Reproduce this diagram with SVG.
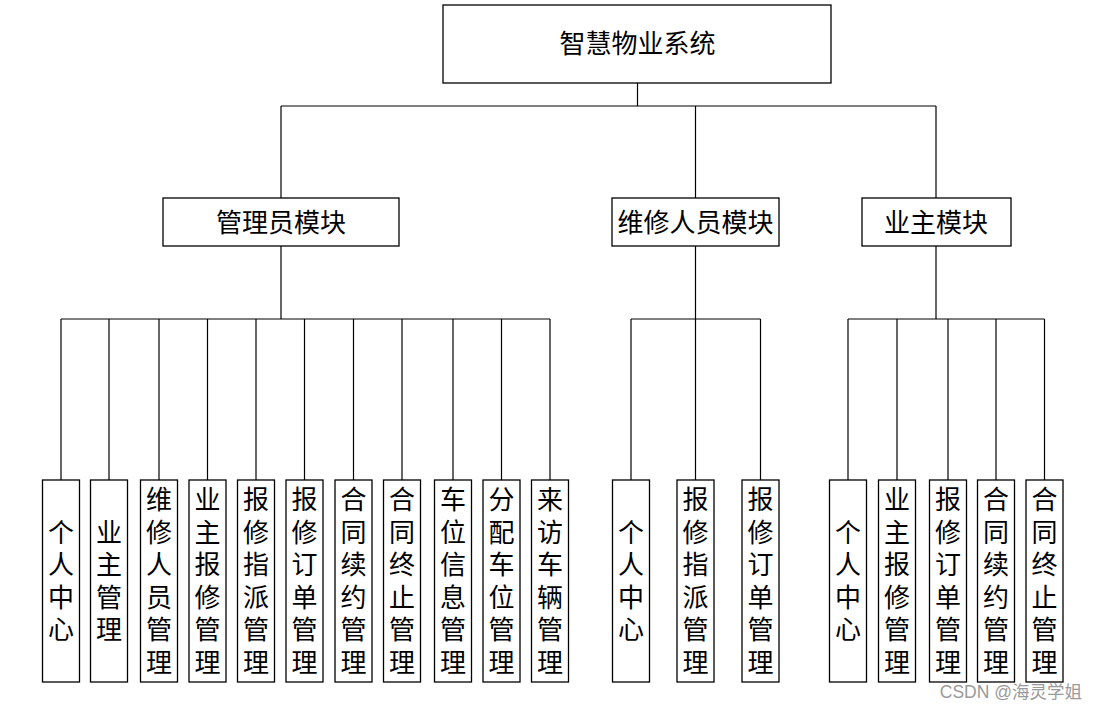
<svg xmlns="http://www.w3.org/2000/svg" width="1097" height="711" viewBox="0 0 1097 711">
<style>
rect.b{fill:#fff;stroke:#000;stroke-width:1.3}
text{font-family:"Noto Sans CJK SC","Noto Sans",sans-serif;font-size:26px;fill:#000;text-anchor:middle;dominant-baseline:central}
text.v{writing-mode:vertical-rl;glyph-orientation-vertical:0;letter-spacing:6.5px}
.c line{stroke:#000;stroke-width:1.2}
text.wm{font-family:"Liberation Sans","Noto Sans CJK SC",sans-serif;font-size:17.5px;fill:#9a9a9a;text-anchor:end}
</style>
<rect width="1097" height="711" fill="#fff"/>
<g class="c" id="connectors">
<line x1="637.5" y1="83" x2="637.5" y2="106"/>
<line x1="281" y1="106" x2="936" y2="106"/>
<line x1="281" y1="106" x2="281" y2="198"/>
<line x1="695.5" y1="106" x2="695.5" y2="198"/>
<line x1="936" y1="106" x2="936" y2="198"/>
<line x1="281" y1="246" x2="281" y2="319"/>
<line x1="695.5" y1="246" x2="695.5" y2="319"/>
<line x1="936" y1="246" x2="936" y2="319"/>
<line x1="61" y1="319" x2="550" y2="319"/>
<line x1="631" y1="319" x2="760.5" y2="319"/>
<line x1="848" y1="319" x2="1044.5" y2="319"/>
<line x1="61" y1="319" x2="61" y2="480"/>
<line x1="109" y1="319" x2="109" y2="480"/>
<line x1="159" y1="319" x2="159" y2="480"/>
<line x1="207.5" y1="319" x2="207.5" y2="480"/>
<line x1="256" y1="319" x2="256" y2="480"/>
<line x1="304.5" y1="319" x2="304.5" y2="480"/>
<line x1="353.5" y1="319" x2="353.5" y2="480"/>
<line x1="402" y1="319" x2="402" y2="480"/>
<line x1="453" y1="319" x2="453" y2="480"/>
<line x1="501.5" y1="319" x2="501.5" y2="480"/>
<line x1="550" y1="319" x2="550" y2="480"/>
<line x1="631" y1="319" x2="631" y2="480"/>
<line x1="695.5" y1="319" x2="695.5" y2="480"/>
<line x1="760.5" y1="319" x2="760.5" y2="480"/>
<line x1="848" y1="319" x2="848" y2="480"/>
<line x1="897" y1="319" x2="897" y2="480"/>
<line x1="948" y1="319" x2="948" y2="480"/>
<line x1="996" y1="319" x2="996" y2="480"/>
<line x1="1044.5" y1="319" x2="1044.5" y2="480"/>
</g>
<g id="root"><rect class="b" x="443" y="5" width="388" height="78"/><text x="637.5" y="41.5">智慧物业系统</text></g>
<g id="admin"><rect class="b" x="163" y="198" width="236" height="48"/><text x="281" y="220.5">管理员模块</text></g>
<g id="repair"><rect class="b" x="612" y="198" width="167" height="48"/><text x="695.5" y="220.5">维修人员模块</text></g>
<g id="owner"><rect class="b" x="862" y="198" width="149" height="48"/><text x="936" y="220.5">业主模块</text></g>

<g id="a1"><rect class="b" x="42.5" y="480" width="37" height="202"/><text class="v" x="61" y="584">个人中心</text></g>
<g id="a2"><rect class="b" x="90.5" y="480" width="37" height="202"/><text class="v" x="109" y="584">业主管理</text></g>
<g id="a3"><rect class="b" x="140.5" y="480" width="37" height="202"/><text class="v" x="159" y="584">维修人员管理</text></g>
<g id="a4"><rect class="b" x="189" y="480" width="37" height="202"/><text class="v" x="207.5" y="584">业主报修管理</text></g>
<g id="a5"><rect class="b" x="237.5" y="480" width="37" height="202"/><text class="v" x="256" y="584">报修指派管理</text></g>
<g id="a6"><rect class="b" x="286" y="480" width="37" height="202"/><text class="v" x="304.5" y="584">报修订单管理</text></g>
<g id="a7"><rect class="b" x="335" y="480" width="37" height="202"/><text class="v" x="353.5" y="584">合同续约管理</text></g>
<g id="a8"><rect class="b" x="383.5" y="480" width="37" height="202"/><text class="v" x="402" y="584">合同终止管理</text></g>
<g id="a9"><rect class="b" x="434.5" y="480" width="37" height="202"/><text class="v" x="453" y="584">车位信息管理</text></g>
<g id="a10"><rect class="b" x="483" y="480" width="37" height="202"/><text class="v" x="501.5" y="584">分配车位管理</text></g>
<g id="a11"><rect class="b" x="531.5" y="480" width="37" height="202"/><text class="v" x="550" y="584">来访车辆管理</text></g>

<g id="r1"><rect class="b" x="612.5" y="480" width="37" height="202"/><text class="v" x="631" y="584">个人中心</text></g>
<g id="r2"><rect class="b" x="677" y="480" width="37" height="202"/><text class="v" x="695.5" y="584">报修指派管理</text></g>
<g id="r3"><rect class="b" x="742" y="480" width="37" height="202"/><text class="v" x="760.5" y="584">报修订单管理</text></g>

<g id="o1"><rect class="b" x="829.5" y="480" width="37" height="202"/><text class="v" x="848" y="584">个人中心</text></g>
<g id="o2"><rect class="b" x="878.5" y="480" width="37" height="202"/><text class="v" x="897" y="584">业主报修管理</text></g>
<g id="o3"><rect class="b" x="929.5" y="480" width="37" height="202"/><text class="v" x="948" y="584">报修订单管理</text></g>
<g id="o4"><rect class="b" x="977.5" y="480" width="37" height="202"/><text class="v" x="996" y="584">合同续约管理</text></g>
<g id="o5"><rect class="b" x="1026" y="480" width="37" height="202"/><text class="v" x="1044.5" y="584">合同终止管理</text></g>

<text class="wm" x="1082" y="692">CSDN @海灵学姐</text>
</svg>
